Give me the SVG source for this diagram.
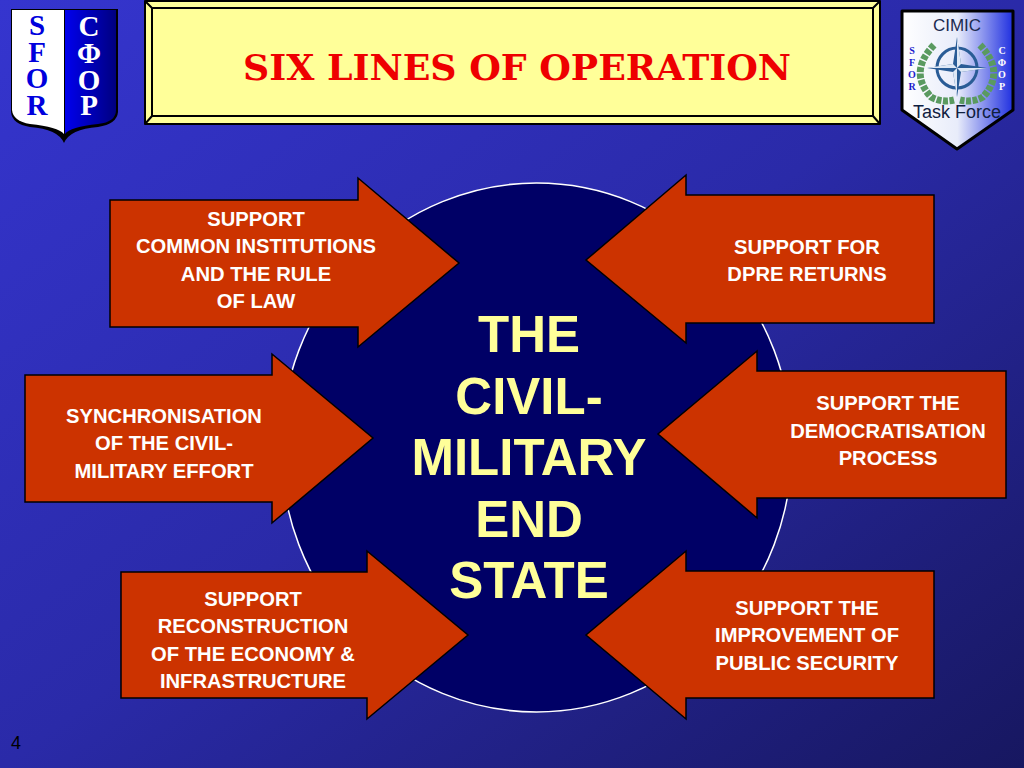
<svg xmlns="http://www.w3.org/2000/svg" width="1024" height="768" viewBox="0 0 1024 768">
<style>
.arrow{fill:#cc3300;stroke:#000;stroke-width:1.5}
.lbl{font-family:"Liberation Sans",Arial,sans-serif;font-weight:700;font-size:20.200px;fill:#fff;text-anchor:middle}
.mid{font-family:"Liberation Sans",Arial,sans-serif;font-weight:700;font-size:51px;fill:#ffff99;text-anchor:middle}
.ser{font-family:"Liberation Serif",serif;font-weight:700;text-anchor:middle}
.bev{fill:#ffff99;stroke:#000;stroke-width:2;stroke-linejoin:round}
</style>
<defs>
<linearGradient id="bg" x1="0" y1="0" x2="1" y2="1"><stop offset="0" stop-color="#3535cf"/><stop offset="0.5" stop-color="#2a2aa8"/><stop offset="1" stop-color="#171760"/></linearGradient>
<linearGradient id="sf" x1="0" y1="0" x2="1" y2="0"><stop offset="0" stop-color="#0000ee"/><stop offset="1" stop-color="#000080"/></linearGradient>
<linearGradient id="cm" x1="0" y1="0" x2="1" y2="0"><stop offset="0" stop-color="#fff"/><stop offset="0.5" stop-color="#e8ecfa"/><stop offset="1" stop-color="#1f2fe0"/></linearGradient>
</defs>
<rect width="1024" height="768" fill="url(#bg)"/>
<g id="banner">
<rect class="bev" x="145" y="1" width="735" height="123"/>
<rect class="bev" x="152" y="8" width="721" height="108"/>
<path d="M145 1L152 8M880 1L873 8M145 124L152 116M880 124L873 116" stroke="#000" stroke-width="2" fill="none"/>
<text x="517" y="80" font-family="'DejaVu Serif',serif" font-weight="700" text-anchor="middle" font-size="36" fill="#ee0000" textLength="548" lengthAdjust="spacingAndGlyphs">SIX LINES OF OPERATION</text>
</g>
<g id="sfor-badge">
<path d="M11 9H118V112Q117 124 98 127Q70 129 64 143Q58 129 30 127Q12 124 11 112Z" fill="#000"/>
<path d="M12 10H64V134Q58 127 30 124Q13 121 12 110Z" fill="#fff"/>
<path d="M65 10H116V110Q116 122 98 124Q70 127 65 134Z" fill="url(#sf)"/>
<g class="ser" font-size="29" fill="#0000dd"><text class="ser" x="37" y="35">S</text><text class="ser" x="37" y="62">F</text><text class="ser" x="37" y="88">O</text><text class="ser" x="37" y="115">R</text></g>
<g class="ser" font-size="29" fill="#fff"><text class="ser" x="89" y="36">C</text><text class="ser" x="89" y="63">Φ</text><text class="ser" x="89" y="90">O</text><text class="ser" x="89" y="115">P</text></g>
</g>
<g id="cimic-badge">
<path d="M902 11H1013V110L957 149L902 110Z" fill="url(#cm)" stroke="#000" stroke-width="3" stroke-linejoin="round"/>
<path d="M934 45Q908 72 931 97Q942 103 954 100M980 45Q1006 72 983 97Q972 103 960 100" fill="none" stroke="#5a9a60" stroke-width="7" stroke-dasharray="5 1.500"/>
<circle cx="957" cy="68" r="20" fill="none" stroke="#2a5c96" stroke-width="3"/>
<path d="M957 37L961 64L987 68L961 72L957 97L953 72L927 68L953 64Z" fill="#2a5c96"/>
<path d="M957 37L961 64L957 68ZM987 68L961 72L957 68ZM957 97L953 72L957 68ZM927 68L953 64L957 68Z" fill="#dfe8f5"/>
<text x="957" y="31" font-family="'Liberation Sans',sans-serif" font-size="17" fill="#1a2a50" text-anchor="middle">CIMIC</text>
<text x="957" y="118" font-family="'Liberation Sans',sans-serif" font-size="18" fill="#102040" text-anchor="middle">Task Force</text>
<g font-size="10" fill="#1a1acc"><text class="ser" x="912" y="54">S</text><text class="ser" x="912" y="66">F</text><text class="ser" x="912" y="78">O</text><text class="ser" x="912" y="90">R</text></g>
<g font-size="10" fill="#fff"><text class="ser" x="1002" y="54">C</text><text class="ser" x="1002" y="66">Φ</text><text class="ser" x="1002" y="78">O</text><text class="ser" x="1002" y="90">P</text></g>
</g>
<g id="end-state">
<ellipse cx="536.500" cy="447.500" rx="255.500" ry="264.500" fill="#000066" stroke="#fff" stroke-width="1.500"/>
<text class="mid" x="529" y="352">THE</text>
<text class="mid" x="529" y="414">CIVIL-</text>
<text class="mid" x="529" y="475">MILITARY</text>
<text class="mid" x="529" y="537">END</text>
<text class="mid" x="529" y="598">STATE</text>
</g>
<g id="connectors">
<path id="arrow-institutions" class="arrow" d="M110 200H358V178L459 263L358 347V327H110Z"/>
<path id="arrow-dpre" class="arrow" d="M934 195H686V175L586 260L686 343V323H934Z"/>
<path id="arrow-sync" class="arrow" d="M25 375H272V354L373 438L272 523V502H25Z"/>
<path id="arrow-democ" class="arrow" d="M1006 371H757V351L658 434L757 518V498H1006Z"/>
<path id="arrow-recon" class="arrow" d="M121 572H367V551L468 635L367 719V698H121Z"/>
<path id="arrow-security" class="arrow" d="M934 571H686V551L586 635L686 719V698H934Z"/>
</g>
<g id="node-institutions"><text class="lbl" x="256" y="226">SUPPORT</text><text class="lbl" x="256" y="253">COMMON INSTITUTIONS</text><text class="lbl" x="256" y="281">AND THE RULE</text><text class="lbl" x="256" y="308">OF LAW</text></g>
<g id="node-dpre"><text class="lbl" x="807" y="254">SUPPORT FOR</text><text class="lbl" x="807" y="281">DPRE RETURNS</text></g>
<g id="node-sync"><text class="lbl" x="164" y="423">SYNCHRONISATION</text><text class="lbl" x="164" y="450">OF THE CIVIL-</text><text class="lbl" x="164" y="478">MILITARY EFFORT</text></g>
<g id="node-democ"><text class="lbl" x="888" y="410">SUPPORT THE</text><text class="lbl" x="888" y="438">DEMOCRATISATION</text><text class="lbl" x="888" y="465">PROCESS</text></g>
<g id="node-recon"><text class="lbl" x="253" y="606">SUPPORT</text><text class="lbl" x="253" y="633">RECONSTRUCTION</text><text class="lbl" x="253" y="661">OF THE ECONOMY &amp;</text><text class="lbl" x="253" y="688">INFRASTRUCTURE</text></g>
<g id="node-security"><text class="lbl" x="807" y="615">SUPPORT THE</text><text class="lbl" x="807" y="642">IMPROVEMENT OF</text><text class="lbl" x="807" y="670">PUBLIC SECURITY</text></g>
<text x="16" y="749" font-family="'Liberation Sans',sans-serif" font-size="18" fill="#000" text-anchor="middle">4</text>
</svg>
